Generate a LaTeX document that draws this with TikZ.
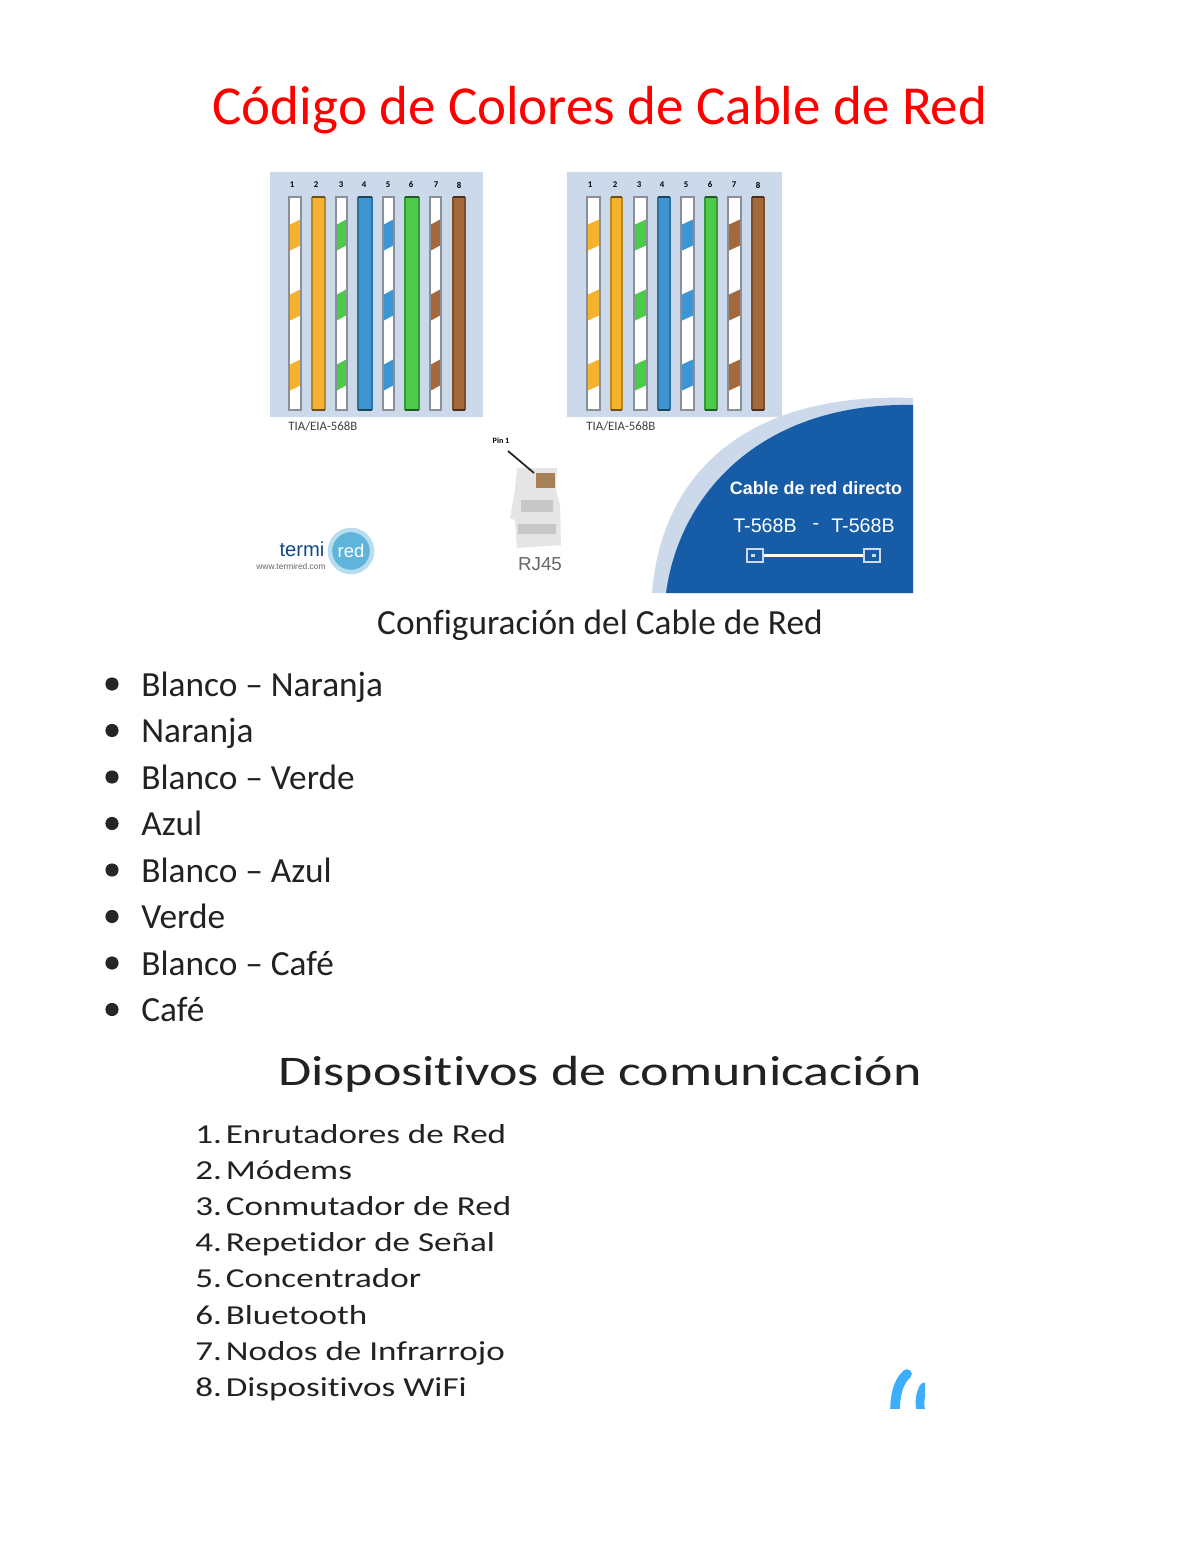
\documentclass[tikz,border=0pt]{standalone}
\usepackage{fontspec}
\setmainfont{Carlito}[Ligatures=NoCommon]
\newfontfamily\widefont[FakeStretch=1.28,Ligatures=NoCommon]{Carlito}
\newfontfamily\headfont{Liberation Sans}
\definecolor{panelblue}{HTML}{CBD9EA}
\definecolor{capblue}{HTML}{175CA6}
\definecolor{orangewire}{HTML}{F5B22E}
\definecolor{greenwire}{HTML}{4CCB4A}
\definecolor{bluewire}{HTML}{3D96D2}
\definecolor{brownwire}{HTML}{A5683A}
\definecolor{wiregray}{HTML}{8A8F98}
\definecolor{wifiblue}{HTML}{3DAEFB}
\definecolor{logoblue}{HTML}{5FB4DC}
\definecolor{textgray}{HTML}{222222}
\tikzset{
	titletext/.style={font=\fontsize{31.3}{34}\selectfont, text=red},
	bodytext/.style={font=\fontsize{20.1}{22}\selectfont, text=textgray, anchor=base west, inner sep=0pt},
	captext/.style={font=\fontsize{20.1}{22}\selectfont, text=textgray, inner sep=0pt},
	devtext/.style={font=\widefont\fontsize{15.6}{18}\selectfont, text=textgray, anchor=base west, inner sep=0pt},
	pintext/.style={font=\fontsize{5}{6}\selectfont\bfseries, text=black, inner sep=0pt},
	normtext/.style={font=\fontsize{7.3}{8}\selectfont, text=black!75, anchor=west, inner sep=0pt},
	capwhite/.style={font=\headfont\fontsize{11.2}{13}\selectfont, text=white, inner sep=0pt},
	bullet/.style={circle, fill=black!85, minimum size=7.5pt, inner sep=0pt},
	wirebox/.style={draw=wiregray, line width=.9pt, fill=white},
	plugbox/.style={draw=panelblue, line width=1.5pt, fill=capblue, minimum width=9pt, minimum height=7.5pt, inner sep=0pt},
	plugdot/.style={fill=panelblue, minimum size=2.2pt, inner sep=0pt},
}
% one striped wire: left, right, colour
\newcommand{\stripedwire}[3]{
	\draw[wirebox] (#1,197) rectangle (#2,410);
	\foreach \ytop in {225,295,365}
		\fill[#3] (#1,\ytop) -- (#2,\ytop-6) -- (#2,\ytop+20) -- (#1,\ytop+26) -- cycle;
	\draw[wiregray, line width=.9pt] (#1,197) rectangle (#2,410);
}
% one solid wire: left, right, colour
\newcommand{\solidwire}[3]{
	\fill[#3] (#1,197) rectangle (#2,410);
	\draw[#3!75!black, line width=.9pt] (#1,197) -- (#1,410) (#2,197) -- (#2,410);
	\draw[#3!45!black, line width=1pt] (#1,197) -- (#2,197) (#1,410) -- (#2,410);
}
\begin{document}
\begin{tikzpicture}[x=0.02cm, y=-0.02cm]
	\useasboundingbox (0,0) rectangle (1200,1553);
	\fill[white] (0,0) rectangle (1200,1553);

	\node[titletext] (title) at (600,110) {Código de Colores de Cable de Red};

	% left panel
	\fill[panelblue] (270,172) rectangle (483,417);
	\stripedwire{289}{301}{orangewire}
	\solidwire{312}{325}{orangewire}
	\stripedwire{336}{347}{greenwire}
	\solidwire{358}{372}{bluewire}
	\stripedwire{383}{394}{bluewire}
	\solidwire{405}{419}{greenwire}
	\stripedwire{430}{441}{brownwire}
	\solidwire{453}{465}{brownwire}
	\foreach \xpin/\npin in {292/1,316/2,341/3,364/4,388/5,411/6,436/7,459/8}
		\node[pintext] (left\npin) at (\xpin,185) {\npin};
	\node[normtext] (leftnorm) at (288,426) {TIA/EIA-568B};

	% right panel
	\fill[panelblue] (567,172) rectangle (782,417);
	\stripedwire{587}{600}{orangewire}
	\solidwire{611}{622}{orangewire}
	\stripedwire{634}{647}{greenwire}
	\solidwire{658}{670}{bluewire}
	\stripedwire{681}{694}{bluewire}
	\solidwire{705}{717}{greenwire}
	\stripedwire{728}{741}{brownwire}
	\solidwire{752}{764}{brownwire}
	\foreach \xpin/\npin in {590/1,615/2,639/3,662/4,686/5,710/6,734/7,758/8}
		\node[pintext] (right\npin) at (\xpin,185) {\npin};
	\node[normtext] (rightnorm) at (586,426) {TIA/EIA-568B};

	% corner
	\fill[panelblue] (652,593) .. controls (662,470) and (750,392) .. (913,398) -- (913,593) -- cycle;
	\fill[capblue] (666,593) .. controls (680,490) and (765,402) .. (913,405) -- (913,593) -- cycle;
	\node[capwhite, font=\headfont\bfseries\fontsize{10.2}{12}\selectfont] (captitle) at (816,488) {Cable de red directo};
	\node[capwhite] (capleft) at (765,526) {T-568B};
	\node[capwhite] (capdash) at (816,526) {-};
	\node[capwhite] (capright) at (863,526) {T-568B};
	\node[plugbox] (plugleft) at (755,555.5) {};
	\node[plugbox] (plugright) at (872,555.5) {};
	\node[plugdot] (dotleft) at (753,555.5) {};
	\node[plugdot] (dotright) at (874,555.5) {};
	\draw[white, line width=1.2pt] (plugleft) -- (plugright);

	% plug
	\node[pintext, font=\fontsize{4.6}{5}\selectfont\bfseries] (pinone) at (501,441) {Pin 1};
	\fill[black!10] (517,468) -- (557,468) -- (556,490) -- (560,505) -- (561,545) -- (517,548) -- (515,520) -- (510,518) -- (515,490) -- cycle;
	\fill[brown!75!black!80] (536,473) rectangle (555,488);
	\fill[black!22] (521,500) rectangle (553,512) (518,524) rectangle (556,534);
	\coordinate (pintip) at (534,473);
	\draw[black!85, line width=1pt] (508,451) -- (pintip);
	\node[font=\headfont\fontsize{10.7}{12}\selectfont, text=black!60, inner sep=0pt] (rjlabel) at (540,564) {RJ45};

	% logo
	\node[font=\headfont\fontsize{11.5}{13}\selectfont, text=capblue!80!black, inner sep=0pt] (logoleft) at (302,549) {termi};
	\node[circle, fill=logoblue, draw=logoblue!45, line width=2.5pt, minimum size=24pt, inner sep=0pt, text=white, font=\headfont\fontsize{10.5}{12}\selectfont] (logoright) at (351,551) {red};
	\node[font=\headfont\fontsize{4.8}{5}\selectfont, text=black!60, inner sep=0pt] (logoweb) at (291,566) {www.termired.com};

	\node[captext] (caption) at (600,625) {Configuración del Cable de Red};

	% colours list
	\foreach \ytext/\wire [count=\nwire] in {696/Blanco – Naranja,742.5/Naranja,789/Blanco – Verde,835.5/Azul,882/Blanco – Azul,928.5/Verde,975/Blanco – Café,1021.5/Café}{
		\node[bullet] (dot\nwire) at (112,\ytext-12) {};
		\node[bodytext] (wire\nwire) at (141,\ytext) {\wire};
	}

	\node[font=\widefont\fontsize{24}{28}\selectfont, text=textgray, inner sep=0pt] (devhead) at (600,1074) {Dispositivos de comunicación};

	% devices list
	\foreach \ytext/\device [count=\ndev] in {1143/Enrutadores de Red,1179.2/Módems,1215.4/Conmutador de Red,1251.6/Repetidor de Señal,1287.8/Concentrador,1324/Bluetooth,1360.2/Nodos de Infrarrojo,1396.4/Dispositivos WiFi}{
		\node[devtext] (num\ndev) at (195,\ytext) {\ndev.};
		\node[devtext] (dev\ndev) at (225.5,\ytext) {\device};
	}

	% wifi fragment
	\begin{scope}
		\clip (880,1360) rectangle (925,1408);
		\draw[wifiblue, line width=5.5pt, line cap=round] (895,1412) .. controls (895,1395) and (898,1382) .. (907,1374);
		\draw[wifiblue, line width=5pt, line cap=round] (921,1412) .. controls (919,1402) and (920,1394) .. (924,1387);
	\end{scope}
\end{tikzpicture}
\end{document}
